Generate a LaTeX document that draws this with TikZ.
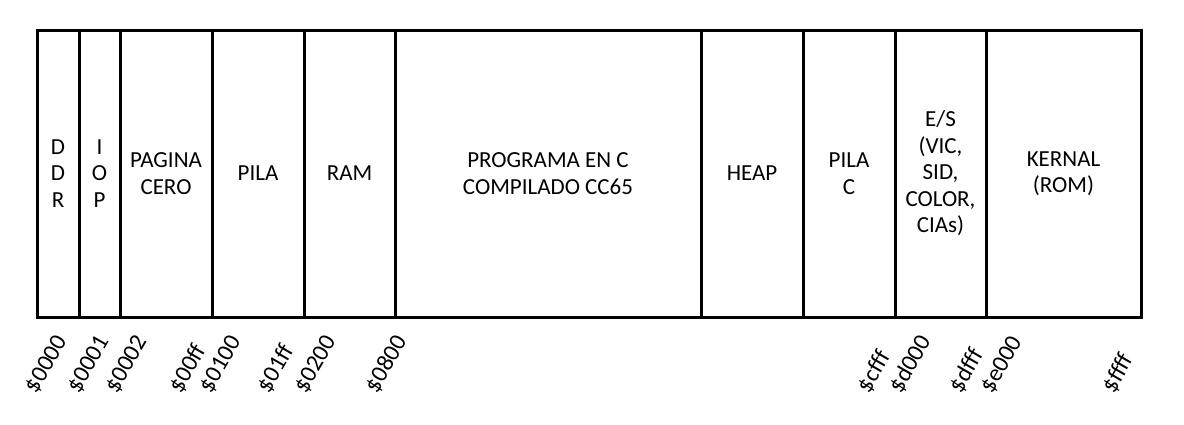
\documentclass[tikz,border=0pt]{standalone}
\usepackage{fontspec}
\setmainfont{Carlito}
\begin{document}
\begin{tikzpicture}[x=1pt,y=-1pt,
  seg/.style={draw, line width=3pt, inner sep=0pt, outer sep=0pt, minimum height=287pt, anchor=west, align=center, font=\fontsize{23}{26.5}\selectfont},
  addr/.style={rotate=60, anchor=base west, inner sep=0pt, outer sep=0pt, font=\fontsize{24}{26}\selectfont}]
\useasboundingbox (0,0) rectangle (1184,424);
\node[seg, minimum width=42pt] (ddr) at (37,173.5) {D\\D\\R};
\node[seg, minimum width=41pt] (iop) at (ddr.east) {I\\O\\P};
\node[seg, minimum width=92pt] (zp) at (iop.east) {PAGINA\\CERO};
\node[seg, minimum width=92pt] (pila) at (zp.east) {PILA};
\node[seg, minimum width=91pt] (ram) at (pila.east) {RAM};
\node[seg, minimum width=306pt] (prog) at (ram.east) {PROGRAMA EN C\\COMPILADO CC65};
\node[seg, minimum width=102pt] (heap) at (prog.east) {HEAP};
\node[seg, minimum width=92pt] (pilac) at (heap.east) {PILA\\C};
\node[seg, minimum width=91pt] (es) at (pilac.east) {E/S\\(VIC,\\SID,\\COLOR,\\CIAs)};
\node[seg, minimum width=155pt] (kern) at (es.east) {KERNAL\\(ROM)};
\node[addr] (a1) at (37,394) {\$0000};
\node[addr] (a2) at (79,394) {\$0001};
\node[addr] (a3) at (117,394) {\$0002};
\node[addr] (a4) at (181,394) {\$00ff};
\node[addr] (a5) at (211,394) {\$0100};
\node[addr] (a6) at (269,394) {\$01ff};
\node[addr] (a7) at (306,394) {\$0200};
\node[addr] (a8) at (377,394) {\$0800};
\node[addr] (a9) at (869,394) {\$cfff};
\node[addr] (a10) at (901,394) {\$d000};
\node[addr] (a11) at (961,394) {\$dfff};
\node[addr] (a12) at (992,394) {\$e000};
\node[addr] (a13) at (1114,394) {\$ffff};
\end{tikzpicture}
\end{document}
